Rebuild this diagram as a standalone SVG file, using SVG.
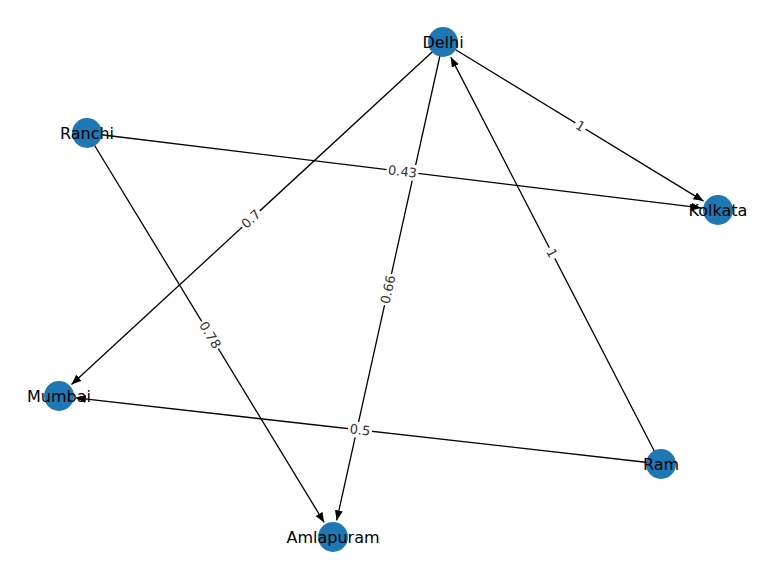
<svg xmlns="http://www.w3.org/2000/svg" width="770" height="586" viewBox="0 0 770 586">
<style>
.e{stroke:#000;stroke-width:1.3;fill:none;marker-end:url(#a)}
.n{fill:#1f77b4}
.t{font-family:"DejaVu Sans",sans-serif;font-size:16px;text-anchor:middle;dominant-baseline:central;fill:#000}
.l{font-family:"DejaVu Sans",sans-serif;font-size:13px;text-anchor:middle;dominant-baseline:central;fill:#333}
.b{fill:#fff}
</style>
<defs><marker id="a" markerUnits="userSpaceOnUse" markerWidth="12" markerHeight="10" refX="10" refY="4" orient="auto"><path d="M0,0L10,4L0,8z" fill="#000"/></marker></defs>
<rect width="770" height="586" fill="#fff"/>
<g id="edges">
<line class="e" x1="443" y1="42" x2="703.5" y2="201.1"/>
<line class="e" x1="87" y1="133" x2="701.1" y2="207.9"/>
<line class="e" x1="443" y1="42" x2="71.5" y2="384.5"/>
<line class="e" x1="443" y1="42" x2="336.7" y2="520.4"/>
<line class="e" x1="87" y1="133" x2="324.2" y2="522.5"/>
<line class="e" x1="661" y1="464" x2="450.8" y2="57.1"/>
<line class="e" x1="661" y1="464" x2="75.9" y2="397.9"/>
<g transform="translate(580.5,126) rotate(31.4)"><rect class="b" x="-6" y="-8" width="12" height="16"/><text class="l">1</text></g>
<g transform="translate(402.5,171.5) rotate(7)"><rect class="b" x="-16" y="-8" width="32" height="16"/><text class="l">0.43</text></g>
<g transform="translate(251,219) rotate(-42.7)"><rect class="b" x="-12" y="-8" width="24" height="16"/><text class="l">0.7</text></g>
<g transform="translate(388,289.5) rotate(-77.5)"><rect class="b" x="-16" y="-8" width="32" height="16"/><text class="l">0.66</text></g>
<g transform="translate(210,335) rotate(58.7)"><rect class="b" x="-16" y="-8" width="32" height="16"/><text class="l">0.78</text></g>
<g transform="translate(552,253) rotate(62.7)"><rect class="b" x="-6" y="-8" width="12" height="16"/><text class="l">1</text></g>
<g transform="translate(360,430) rotate(6.4)"><rect class="b" x="-12" y="-8" width="24" height="16"/><text class="l">0.5</text></g>
</g>
<g id="Delhi"><circle class="n" cx="443" cy="42" r="15"/><text class="t" x="443" y="42">Delhi</text></g>
<g id="Ranchi"><circle class="n" cx="87" cy="133" r="15"/><text class="t" x="87" y="133">Ranchi</text></g>
<g id="Kolkata"><circle class="n" cx="718" cy="210" r="15"/><text class="t" x="718" y="210">Kolkata</text></g>
<g id="Mumbai"><circle class="n" cx="59" cy="396" r="15"/><text class="t" x="59" y="396">Mumbai</text></g>
<g id="Ram"><circle class="n" cx="661" cy="464" r="15"/><text class="t" x="661" y="464">Ram</text></g>
<g id="Amlapuram"><circle class="n" cx="333" cy="537" r="15"/><text class="t" x="333" y="537">Amlapuram</text></g>
</svg>
